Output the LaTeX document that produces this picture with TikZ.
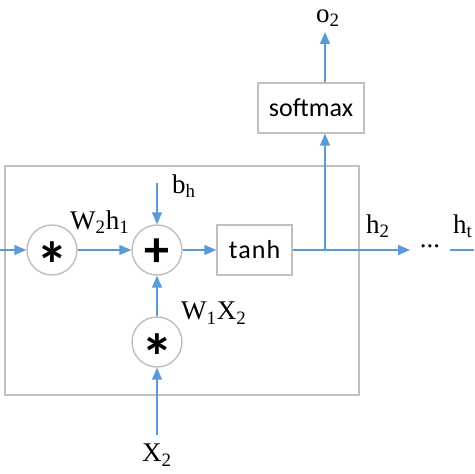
\documentclass[tikz,border=0pt]{standalone}
\usepackage{fontspec}
\setmainfont{Liberation Serif}
\newfontfamily\calib{Carlito}
\usetikzlibrary{arrows.meta,positioning}
\definecolor{lblue}{RGB}{91,155,213}
\definecolor{lgray}{RGB}{191,191,191}

\begin{document}
\begin{tikzpicture}[x=0.5pt,y=-0.5pt,
	op/.style={draw=lgray,line width=0.7pt,circle,minimum size=25pt,inner sep=0pt,
	fill=white,font=\calib\bfseries\fontsize{25}{25}\selectfont},
	fun/.style={draw=lgray,line width=0.7pt,minimum width=37.5pt,minimum height=25pt,
	inner sep=0pt,font=\calib\fontsize{13}{15}\selectfont},
	lab/.style={font=\fontsize{13.5}{15}\selectfont},
	con/.style={draw=lblue,line width=0.8pt},
	arr/.style={con,-{Triangle[length=6pt,width=5pt]}}]
\useasboundingbox (0,0) rectangle (474,474);
\draw[lgray,line width=0.7pt] (5,166) rectangle (359,395);
\node[op] (1) at (52,250) {\smash{\fontsize{32}{32}\selectfont\raisebox{-0.58em}{*}}};
\node[op] (2) at (157,250) {\smash{\raisebox{-0.33em}{+}}};
\node[op] (3) at (157,342) {\smash{\fontsize{32}{32}\selectfont\raisebox{-0.58em}{*}}};
\node[fun] (4) at (254.5,250) {t\kern0.5pt a\kern0.5pt n\kern0.5pt h};
\node[fun,minimum width=53pt] (5) at (311,108) {softmax};
\node[lab] (6) at (100,222) {W\textsubscript{2}h\textsubscript{1}};
\node[lab] (7) at (184,186) {b\textsubscript{h}};
\node[lab] (8) at (214,313) {W\textsubscript{1}X\textsubscript{2}};
\node[lab] (9) at (157,455) {X\textsubscript{2}};
\node[lab] (10) at (328,18) {o\textsubscript{2}};
\node[lab] (11) at (378,226) {h\textsubscript{2}};
\node[lab] (12) at (463,226) {h\textsubscript{t}};
\node[lab] (13) at (430,246) {...};
\coordinate (in) at (0,250);
\coordinate (b) at (157,183);
\coordinate (x) at (157,435);
\coordinate (s) at (325,250);
\coordinate (e) at (410,250);
\coordinate (f) at (450,250);
\coordinate (g) at (474,250);
\coordinate (o) at (325,32);
\draw[arr] (in) -- (1);
\draw[arr] (1) -- (2);
\draw[arr] (2) -- (4);
\draw[arr] (b) -- (2);
\draw[arr] (3) -- (2);
\draw[arr] (x) -- (3);
\draw[con] (4) -- (s);
\draw[arr] (s) -- (e);
\draw[con] (f) -- (g);
\draw[arr] (s) -- (s |- 5.south);
\draw[arr] (s |- 5.north) -- (o);
\end{tikzpicture}
\end{document}
